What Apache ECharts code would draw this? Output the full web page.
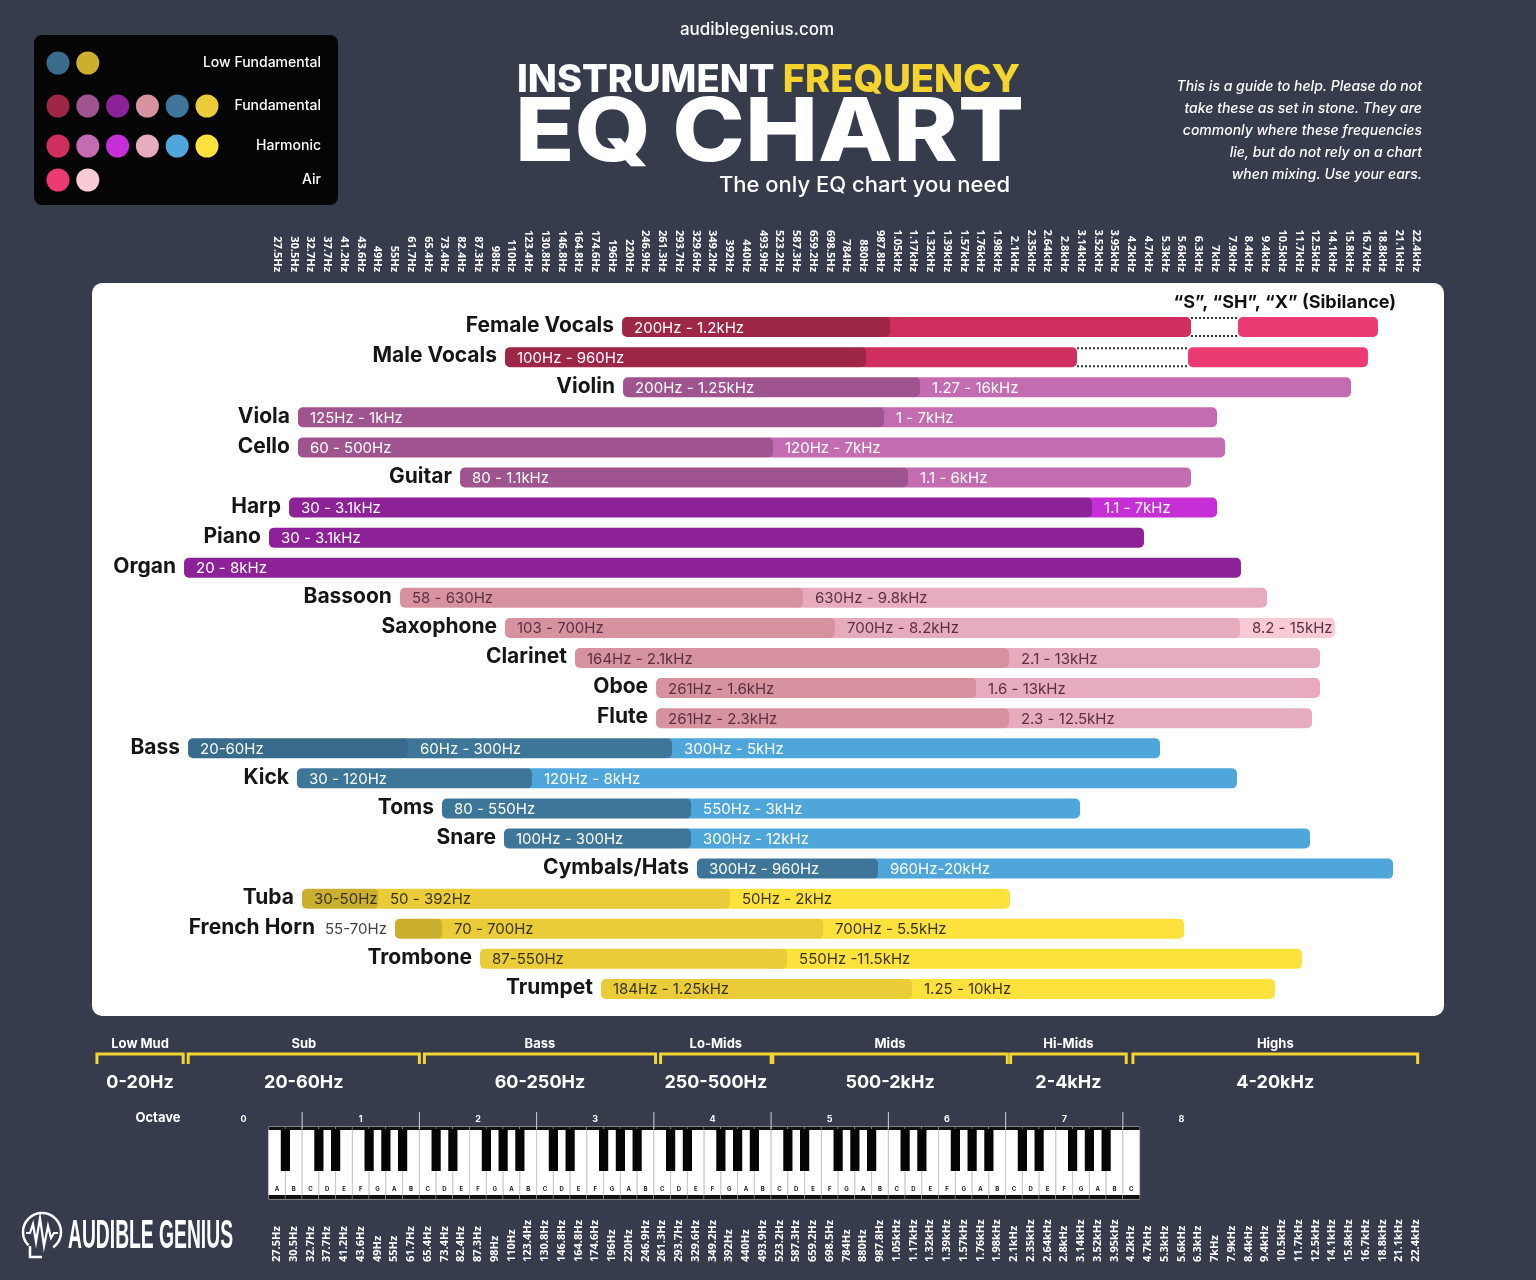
<!DOCTYPE html>
<html>
<head>
<meta charset="utf-8">
<title>Instrument Frequency EQ Chart</title>
<script src="https://cdn.jsdelivr.net/npm/echarts@6/dist/echarts.min.js"></script>
<style>
  html, body { margin: 0; padding: 0; background: #363c4c; }
  #chart { width: 1536px; height: 1280px; }
</style>
</head>
<body>
<div id="chart"></div>
<script>
// scale positions are white-key steps: 0 = 27.5Hz ... 68 = 22.4kHz
const noteLabels = ['27.5Hz', '30.5Hz', '32.7Hz', '37.7Hz', '41.2Hz', '43.6Hz', '49Hz', '55Hz', '61.7Hz', '65.4Hz',
  '73.4Hz', '82.4Hz', '87.3Hz', '98Hz', '110Hz', '123.4Hz', '130.8Hz', '146.8Hz', '164.8Hz', '174.6Hz', '196Hz',
  '220Hz', '246.9Hz', '261.3Hz', '293.7Hz', '329.6Hz', '349.2Hz', '392Hz', '440Hz', '493.9Hz', '523.2Hz',
  '587.3Hz', '659.2Hz', '698.5Hz', '784Hz', '880Hz', '987.8Hz', '1.05kHz', '1.17kHz', '1.32kHz', '1.39kHz',
  '1.57kHz', '1.76kHz', '1.98kHz', '2.1kHz', '2.35kHz', '2.64kHz', '2.8kHz', '3.14kHz', '3.52kHz', '3.95kHz',
  '4.2kHz', '4.7kHz', '5.3kHz', '5.6kHz', '6.3kHz', '7kHz', '7.9kHz', '8.4kHz', '9.4kHz', '10.5kHz', '11.7kHz',
  '12.5kHz', '14.1kHz', '15.8kHz', '16.7kHz', '18.8kHz', '21.1kHz', '22.4kHz'];

const instruments = ['Female Vocals', 'Male Vocals', 'Violin', 'Viola', 'Cello', 'Guitar', 'Harp', 'Piano', 'Organ',
  'Bassoon', 'Saxophone', 'Clarinet', 'Oboe', 'Flute', 'Bass', 'Kick', 'Toms', 'Snare', 'Cymbals/Hats',
  'Tuba', 'French Horn', 'Trombone', 'Trumpet'];

// [instrument, start, end, level, label]
const vocalSegments = [
  ['Female Vocals', 20.6, 36.6, 'fund', '200Hz - 1.2kHz'],
  ['Female Vocals', 36.6, 54.57, 'harm', ''],
  ['Female Vocals', 57.37, 65.73, 'air', ''],
  ['Male Vocals', 13.61, 35.16, 'fund', '100Hz - 960Hz'],
  ['Male Vocals', 35.16, 47.76, 'harm', ''],
  ['Male Vocals', 54.39, 65.13, 'air', '']
];
const stringSegments = [
  ['Violin', 20.66, 38.39, 'fund', '200Hz - 1.25kHz'],
  ['Violin', 38.39, 64.12, 'harm', '1.27 - 16kHz'],
  ['Viola', 1.25, 36.24, 'fund', '125Hz - 1kHz'],
  ['Viola', 36.24, 56.12, 'harm', '1 - 7kHz'],
  ['Cello', 1.25, 29.61, 'fund', '60 - 500Hz'],
  ['Cello', 29.61, 56.6, 'harm', '120Hz - 7kHz'],
  ['Guitar', 10.93, 37.67, 'fund', '80 - 1.1kHz'],
  ['Guitar', 37.67, 54.57, 'harm', '1.1 - 6kHz']
];
const keysSegments = [
  ['Harp', 0.72, 48.66, 'fund', '30 - 3.1kHz'],
  ['Harp', 48.66, 56.12, 'harm', '1.1 - 7kHz'],
  ['Piano', -0.48, 51.76, 'fund', '30 - 3.1kHz'],
  ['Organ', -5.55, 57.55, 'fund', '20 - 8kHz']
];
const windSegments = [
  ['Bassoon', 7.34, 31.4, 'fund', '58 - 630Hz'],
  ['Bassoon', 31.4, 59.1, 'harm', '630Hz - 9.8kHz'],
  ['Saxophone', 13.61, 33.31, 'fund', '103 - 700Hz'],
  ['Saxophone', 33.31, 57.49, 'harm', '700Hz - 8.2kHz'],
  ['Saxophone', 57.49, 63.16, 'air', '8.2 - 15kHz'],
  ['Clarinet', 17.79, 43.7, 'fund', '164Hz - 2.1kHz'],
  ['Clarinet', 43.7, 62.27, 'harm', '2.1 - 13kHz'],
  ['Oboe', 22.63, 41.73, 'fund', '261Hz - 1.6kHz'],
  ['Oboe', 41.73, 62.27, 'harm', '1.6 - 13kHz'],
  ['Flute', 22.63, 43.7, 'fund', '261Hz - 2.3kHz'],
  ['Flute', 43.7, 61.79, 'harm', '2.3 - 12.5kHz']
];
const drumSegments = [
  ['Bass', -5.31, 7.82, 'low', '20-60Hz'],
  ['Bass', 7.82, 23.58, 'fund', '60Hz - 300Hz'],
  ['Bass', 23.58, 52.72, 'harm', '300Hz - 5kHz'],
  ['Kick', 1.19, 15.22, 'fund', '30 - 120Hz'],
  ['Kick', 15.22, 57.31, 'harm', '120Hz - 8kHz'],
  ['Toms', 9.85, 24.72, 'fund', '80 - 550Hz'],
  ['Toms', 24.72, 47.94, 'harm', '550Hz - 3kHz'],
  ['Snare', 13.55, 24.72, 'fund', '100Hz - 300Hz'],
  ['Snare', 24.72, 61.67, 'harm', '300Hz - 12kHz'],
  ['Cymbals/Hats', 25.07, 35.88, 'fund', '300Hz - 960Hz'],
  ['Cymbals/Hats', 35.88, 66.63, 'harm', '960Hz-20kHz']
];
const brassSegments = [
  ['Tuba', 1.49, 6.03, 'low', '30-50Hz'],
  ['Tuba', 6.03, 27.04, 'fund', '50 - 392Hz'],
  ['Tuba', 27.04, 43.76, 'harm', '50Hz - 2kHz'],
  ['French Horn', 7.04, 9.85, 'low', ''],
  ['French Horn', 9.85, 32.6, 'fund', '70 - 700Hz'],
  ['French Horn', 32.6, 54.15, 'harm', '700Hz - 5.5kHz'],
  ['Trombone', 12.12, 30.45, 'fund', '87-550Hz'],
  ['Trombone', 30.45, 61.19, 'harm', '550Hz -11.5kHz'],
  ['Trumpet', 19.34, 37.91, 'fund', '184Hz - 1.25kHz'],
  ['Trumpet', 37.91, 59.58, 'harm', '1.25 - 10kHz']
];
// labels written outside, in front of the bar
const outsideLabels = { 'French Horn': '55-70Hz' };

// sibilance gaps: [instrument, start, end]
const sibilanceGaps = [['Female Vocals', 54.57, 57.37], ['Male Vocals', 47.76, 54.39]];

const bandNames = ['Low Mud', 'Sub', 'Bass', 'Lo-Mids', 'Mids', 'Hi-Mids', 'Highs'];
const bandRanges = ['0-20Hz', '20-60Hz', '60-250Hz', '250-500Hz', '500-2kHz', '2-4kHz', '4-20kHz'];
const bandStart = [-10.75, -5.3, 8.8, 22.9, 29.6, 43.8, 51.1];
const bandEnd = [-5.6, 8.5, 22.6, 29.5, 43.6, 50.7, 68.1];

const whiteKeys = 'A B C D E F G A B C D E F G A B C D E F G A B C D E F G A B C D E F G A B C D E F G A B C D E F G A B C'.split(' ');
const octaves = [0, 1, 2, 3, 4, 5, 6, 7, 8];

const palette = {
  vocal: { fund: '#9e2647', harm: '#cf2f5f', air: '#ec3a72', text: '#ffffff' },
  string: { fund: '#a0548f', harm: '#c46cb2', text: '#ffffff' },
  keys: { fund: '#8c2198', harm: '#c62fd6', text: '#ffffff' },
  wind: { fund: '#d6929f', harm: '#e6abbd', air: '#f9cbd7', text: '#5a3040' },
  drum: { low: '#386b8c', fund: '#3e7699', harm: '#4ea6da', text: '#ffffff' },
  brass: { low: '#cbaf2e', fund: '#e9cc38', harm: '#fde13c', text: '#3a3320' }
};

const families = [
  ['vocal', vocalSegments], ['string', stringSegments], ['keys', keysSegments],
  ['wind', windSegments], ['drum', drumSegments], ['brass', brassSegments]
];
const segments = [];
families.forEach(([fam, list]) => list.forEach(s => segments.push({
  row: instruments.indexOf(s[0]), start: s[1], end: s[2], family: fam, level: s[3], label: s[4]
})));

const FONT = 'Inter, "Open Sans", sans-serif';
const measureCtx = document.createElement('canvas').getContext('2d');
function textWidth(text, font) {
  measureCtx.font = font;
  return measureCtx.measureText(text).width;
}

const chart = echarts.init(document.getElementById('chart'));

function renderSegment(params, api) {
  const i = params.dataIndex;
  const seg = segments[i];
  const prev = segments[i - 1];
  const first = !prev || prev.row !== seg.row;
  const joined = prev && prev.row === seg.row && prev.end === seg.start;
  let order = 0;
  for (let k = i - 1; k >= 0 && segments[k].row === seg.row; k--) order++;
  const p0 = api.coord([seg.start, seg.row]);
  const p1 = api.coord([seg.end, seg.row]);
  const h = 20;
  const pal = palette[seg.family];
  const overlap = joined ? 8 : 0;
  const children = [{
    type: 'rect',
    z2: 50 - order,
    shape: { x: p0[0] - overlap, y: p0[1] - h / 2, width: p1[0] - p0[0] + overlap, height: h, r: 5 },
    style: { fill: pal[seg.level] }
  }];
  if (seg.label) {
    children.push({
      type: 'text', z2: 100,
      style: {
        x: p0[0] + 12, y: p0[1] + 1, text: seg.label, align: 'left', verticalAlign: 'middle',
        fontSize: 15, fontWeight: 400, fontFamily: FONT, fill: pal.text
      }
    });
  }
  if (first) {
    let nameRight = p0[0] - 8;
    const name = instruments[seg.row];
    const outside = outsideLabels[name];
    if (outside) {
      children.push({
        type: 'text', z2: 100,
        style: {
          x: nameRight, y: p0[1] + 1, text: outside, align: 'right', verticalAlign: 'middle',
          fontSize: 15, fontWeight: 400, fontFamily: FONT, fill: '#444'
        }
      });
      nameRight -= textWidth(outside, '400 15px ' + FONT) + 10;
    }
    children.push({
      type: 'text', z2: 100,
      style: {
        x: nameRight, y: p0[1] - 1, text: name, align: 'right', verticalAlign: 'middle',
        fontSize: 21, fontWeight: 700, fontFamily: FONT, fill: '#161616'
      }
    });
  }
  return { type: 'group', children };
}

function renderGap(params, api) {
  const g = sibilanceGaps[params.dataIndex];
  const row = instruments.indexOf(g[0]);
  const p0 = api.coord([g[1], row]);
  const p1 = api.coord([g[2], row]);
  const lineStyle = { stroke: '#333', lineWidth: 2, lineDash: [2, 2] };
  return {
    type: 'group',
    children: [
      { type: 'line', shape: { x1: p0[0], y1: p0[1] - 9, x2: p1[0], y2: p1[1] - 9 }, style: lineStyle },
      { type: 'line', shape: { x1: p0[0], y1: p0[1] + 9, x2: p1[0], y2: p1[1] + 9 }, style: lineStyle }
    ]
  };
}

function renderBand(params, api) {
  const i = params.dataIndex;
  const x1 = api.coord([bandStart[i], 0])[0];
  const x2 = api.coord([bandEnd[i], 0])[0];
  const top = params.coordSys.y;
  const cx = (x1 + x2) / 2;
  return {
    type: 'group',
    children: [
      {
        type: 'polyline',
        shape: { points: [[x1, top + 24], [x1, top + 14], [x2, top + 14], [x2, top + 24]] },
        style: { stroke: '#f2d531', lineWidth: 3, fill: null }
      },
      {
        type: 'text',
        style: { x: cx, y: top + 4, text: bandNames[i], align: 'center', verticalAlign: 'middle',
          fontSize: 13, fontWeight: 700, fontFamily: FONT, fill: '#ffffff' }
      },
      {
        type: 'text',
        style: { x: cx, y: top + 43, text: bandRanges[i], align: 'center', verticalAlign: 'middle',
          fontSize: 18, fontWeight: 700, fontFamily: FONT, fill: '#ffffff' }
      }
    ]
  };
}

function renderWhiteKey(params, api) {
  const i = params.dataIndex;
  const x1 = api.coord([i - 0.5, 0])[0];
  const x2 = api.coord([i + 0.5, 0])[0];
  const top = params.coordSys.y;
  const h = params.coordSys.height;
  return {
    type: 'group',
    children: [
      { type: 'rect', shape: { x: x1, y: top, width: x2 - x1, height: h }, style: { fill: '#ffffff', stroke: '#c8c8c8', lineWidth: 1 } },
      { type: 'rect', shape: { x: x1, y: top, width: x2 - x1, height: 3 }, style: { fill: '#111' } },
      { type: 'rect', shape: { x: x1, y: top + h - 4, width: x2 - x1, height: 4 }, style: { fill: '#111' } },
      {
        type: 'text',
        style: { x: (x1 + x2) / 2, y: top + h - 10, text: whiteKeys[i], align: 'center', verticalAlign: 'middle',
          fontSize: 6, fontWeight: 700, fontFamily: FONT, fill: '#222' }
      }
    ]
  };
}

const blackKeyPos = [];
whiteKeys.forEach((k, i) => {
  if (i < whiteKeys.length - 1 && 'ACDFG'.includes(k)) blackKeyPos.push(i + 0.5);
});

function renderBlackKey(params, api) {
  const cx = api.coord([blackKeyPos[params.dataIndex], 0])[0];
  const top = params.coordSys.y;
  return { type: 'rect', shape: { x: cx - 4.6, y: top + 2, width: 9.2, height: 42 }, style: { fill: '#050505' } };
}

function renderOctave(params, api) {
  const n = octaves[params.dataIndex];
  const top = params.coordSys.y;
  const children = [{
    type: 'text',
    style: { x: api.coord([7 * n - 2, 0])[0], y: top - 8, text: String(n), align: 'center', verticalAlign: 'middle',
      fontSize: 9, fontWeight: 700, fontFamily: FONT, fill: '#ffffff' }
  }];
  if (n >= 1) {
    const lx = api.coord([7 * n - 5.5, 0])[0];
    children.push({ type: 'line', shape: { x1: lx, y1: top - 15, x2: lx, y2: top + 2 }, style: { stroke: '#d0d0d0', lineWidth: 1 } });
  }
  return { type: 'group', children };
}

const gridBox = { left: 76, right: 86.5 };
const scaleAxis = (gridIndex, extra) => Object.assign({
  gridIndex, type: 'value', min: -12, max: 70, interval: 1,
  axisLine: { show: false }, axisTick: { show: false }, splitLine: { show: false }
}, extra);
const noteAxisLabel = (margin) => ({
  show: true, rotate: 90, margin, color: '#ffffff', fontSize: 11, fontWeight: 700,
  fontFamily: '"Open Sans", sans-serif',
  formatter: v => (v >= 0 && v < noteLabels.length ? noteLabels[v] : '')
});

// title helpers
const title1Font = '800 38px ' + FONT;
const title2Font = '800 88px ' + FONT;
const logoFont = '700 40px "Liberation Sans Narrow", "Liberation Sans", sans-serif';

const legendRows = [
  ['Low Fundamental', [palette.drum.low, palette.brass.low], 63],
  ['Fundamental', ['vocal', 'string', 'keys', 'wind', 'drum', 'brass'].map(f => palette[f].fund), 106],
  ['Harmonic', ['vocal', 'string', 'keys', 'wind', 'drum', 'brass'].map(f => palette[f].harm), 146],
  ['Air', [palette.vocal.air, palette.wind.air], 180]
];
const legendGraphic = [{ type: 'rect', shape: { x: 34, y: 35, width: 304, height: 170, r: 8 }, style: { fill: '#050505' } }];
legendRows.forEach(([label, colors, y]) => {
  colors.forEach((c, k) => legendGraphic.push({ type: 'circle', shape: { cx: 58 + k * 29.8, cy: y, r: 11.5 }, style: { fill: c } }));
  legendGraphic.push({ type: 'text', style: { x: 321, y, text: label, align: 'right', verticalAlign: 'middle',
    fontSize: 14, fontWeight: 500, fontFamily: FONT, fill: '#ffffff' } });
});

const noteLines = ['This is a guide to help. Please do not', 'take these as set in stone. They are',
  'commonly where these frequencies', 'lie, but do not rely on a chart', 'when mixing. Use your ears.'];

const option = {
  backgroundColor: '#363c4c',
  animation: false,
  graphic: [
    { type: 'rect', z: 0, shape: { x: 92, y: 283, width: 1352, height: 733, r: 10 }, style: { fill: '#ffffff' } },
    { type: 'group', z: 1, children: legendGraphic },
    { type: 'text', z: 1, style: { x: 757, y: 30, text: 'audiblegenius.com', align: 'center', verticalAlign: 'middle',
      fontSize: 17, fontWeight: 500, fontFamily: FONT, fill: '#ffffff' } },
    {
      type: 'text', z: 1, x: 517, y: 81,
      scaleX: 503 / textWidth('INSTRUMENT FREQUENCY', title1Font),
      style: {
        x: 0, y: 0, align: 'left', verticalAlign: 'middle',
        text: '{w|INSTRUMENT }{y|FREQUENCY}',
        rich: {
          w: { fontSize: 38, fontWeight: 800, fontFamily: FONT, fill: '#ffffff' },
          y: { fontSize: 38, fontWeight: 800, fontFamily: FONT, fill: '#f5d42f' }
        }
      }
    },
    {
      type: 'text', z: 1, x: 515, y: 135,
      scaleX: 509 / textWidth('EQ CHART', title2Font),
      style: { x: 0, y: 0, text: 'EQ CHART', align: 'left', verticalAlign: 'middle',
        fontSize: 88, fontWeight: 800, fontFamily: FONT, fill: '#ffffff' }
    },
    { type: 'text', z: 1, style: { x: 1010, y: 185, text: 'The only EQ chart you need', align: 'right', verticalAlign: 'middle',
      fontSize: 22, fontWeight: 500, fontFamily: FONT, fill: '#ffffff' } },
    {
      type: 'group', z: 1,
      children: noteLines.map((t, k) => ({
        type: 'text',
        style: { x: 1422, y: 87 + k * 22, text: t, align: 'right', verticalAlign: 'middle',
          fontSize: 14, fontStyle: 'italic', fontWeight: 500, fontFamily: FONT, fill: '#ffffff' }
      }))
    },
    { type: 'text', z: 10, style: { x: 1396, y: 303, text: '\u201cS\u201d, \u201cSH\u201d, \u201cX\u201d (Sibilance)', align: 'right',
      verticalAlign: 'middle', fontSize: 18, fontWeight: 700, fontFamily: FONT, fill: '#111' } },
    { type: 'text', z: 1, style: { x: 158, y: 1118, text: 'Octave', align: 'center', verticalAlign: 'middle',
      fontSize: 13, fontWeight: 700, fontFamily: FONT, fill: '#ffffff' } },
    // logo
    {
      type: 'group', z: 1,
      children: [
        { type: 'arc', shape: { cx: 42, cy: 1232, r: 19, startAngle: Math.PI * 0.75, endAngle: Math.PI * 2.3 },
          style: { stroke: '#ffffff', lineWidth: 2.5, fill: null } },
        { type: 'polyline', shape: { points: [[26, 1233], [30, 1233], [33, 1224], [36, 1242], [40, 1218], [44, 1246], [48, 1226], [51, 1238], [54, 1233], [58, 1233]] },
          style: { stroke: '#ffffff', lineWidth: 2.2, fill: null } },
        { type: 'polyline', shape: { points: [[30, 1246], [30, 1257], [42, 1257]] }, style: { stroke: '#ffffff', lineWidth: 2.5, fill: null } }
      ]
    },
    {
      type: 'text', z: 1, x: 68, y: 1237,
      scaleX: 165 / textWidth('AUDIBLE GENIUS', logoFont),
      style: { x: 0, y: 0, text: 'AUDIBLE GENIUS', align: 'left', verticalAlign: 'middle',
        fontSize: 40, fontWeight: 700, fontFamily: '"Liberation Sans Narrow", "Liberation Sans", sans-serif', fill: '#ffffff' }
    }
  ],
  grid: [
    Object.assign({ top: 312, height: 692 }, gridBox),
    Object.assign({ top: 1040, height: 50 }, gridBox),
    Object.assign({ top: 1127, height: 72 }, gridBox),
    Object.assign({ top: 1266, height: 2 }, gridBox)
  ],
  xAxis: [
    scaleAxis(0, { position: 'top', axisLabel: noteAxisLabel(40) }),
    scaleAxis(1, { show: false }),
    scaleAxis(2, { show: false }),
    scaleAxis(3, { position: 'top', axisLabel: noteAxisLabel(4) })
  ],
  yAxis: [
    { gridIndex: 0, type: 'category', data: instruments, inverse: true, show: false },
    { gridIndex: 1, type: 'value', min: 0, max: 1, show: false },
    { gridIndex: 2, type: 'value', min: 0, max: 1, show: false },
    { gridIndex: 3, type: 'value', min: 0, max: 1, show: false }
  ],
  series: [
    {
      type: 'custom', name: 'ranges', xAxisIndex: 0, yAxisIndex: 0, z: 5,
      renderItem: renderSegment,
      encode: { x: [1, 2], y: 0 },
      data: segments.map(s => [s.row, s.start, s.end])
    },
    {
      type: 'custom', name: 'sibilance', xAxisIndex: 0, yAxisIndex: 0, z: 5,
      renderItem: renderGap,
      encode: { x: [1, 2], y: 0 },
      data: sibilanceGaps.map(g => [instruments.indexOf(g[0]), g[1], g[2]])
    },
    {
      type: 'custom', name: 'bands', xAxisIndex: 1, yAxisIndex: 1, z: 5,
      renderItem: renderBand,
      encode: { x: [0, 1], y: 2 },
      data: bandStart.map((s, i) => [s, bandEnd[i], 0])
    },
    {
      type: 'custom', name: 'whiteKeys', xAxisIndex: 2, yAxisIndex: 2, z: 5,
      renderItem: renderWhiteKey,
      encode: { x: 0, y: 1 },
      data: whiteKeys.map((k, i) => [i, 0])
    },
    {
      type: 'custom', name: 'blackKeys', xAxisIndex: 2, yAxisIndex: 2, z: 6,
      renderItem: renderBlackKey,
      encode: { x: 0, y: 1 },
      data: blackKeyPos.map(p => [p, 0])
    },
    {
      type: 'custom', name: 'octaves', xAxisIndex: 2, yAxisIndex: 2, z: 6,
      renderItem: renderOctave,
      encode: { x: 0, y: 1 },
      data: octaves.map(n => [7 * n - 2, 0])
    }
  ]
};

chart.setOption(option);
window.addEventListener('resize', () => chart.resize());
</script>
</body>
</html>
